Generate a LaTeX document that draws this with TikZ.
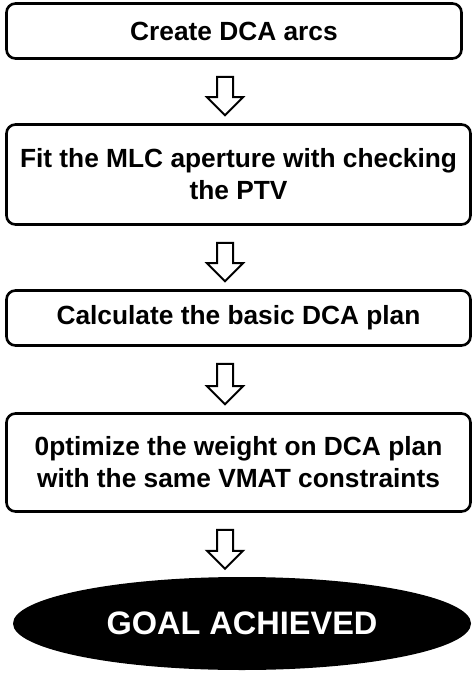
\documentclass[tikz,border=0pt]{standalone}
\usepackage{fontspec}
\setmainfont{Liberation Sans}
\usetikzlibrary{calc, shapes.geometric}

\newcommand{\flowarrow}[2]{%
  \draw[hollow] let \p0 = (axis), \p1 = ($(#1.south)+(0,-17pt)$), \p2 = ($(#2.north)+(0,8pt)$) in
    (\x0-8pt,\y1) -- (\x0+8pt,\y1) -- (\x0+8pt,\y2+18pt) -- (\x0+18pt,\y2+18pt)
    -- (\x0,\y2) -- (\x0-18pt,\y2+18pt) -- (\x0-8pt,\y2+18pt) -- cycle;}

\begin{document}
\begin{tikzpicture}[x=1pt, y=-1pt]
      \tikzset{stepbox/.style = {shape=rectangle, rounded corners=9pt, draw, line width=2.6pt, align=center, inner sep=0pt, font=\fontsize{26.3}{32}\selectfont\bfseries}}
      \tikzset{goalshape/.style = {shape=ellipse, fill=black, text=white, inner sep=0pt, font=\fontsize{32.5}{40}\selectfont\bfseries}}
      \tikzset{hollow/.style = {draw, line width=2pt, fill=white, line join=miter}}
      \useasboundingbox (0,0) rectangle (474,678);
      \coordinate (axis) at (225,0);

      \node[stepbox, minimum width=455pt, minimum height=55pt] (create) at (234, 31) {Create DCA arcs};
      \node[stepbox, minimum width=464pt, minimum height=100pt] (fit) at (238.5, 174.5) {Fit the MLC aperture with checking\\the PTV};
      \node[stepbox, minimum width=464pt, minimum height=55pt] (calc) at (238.5, 318) {Calculate the basic DCA plan};
      \node[stepbox, minimum width=464pt, minimum height=98pt] (optimize) at (238.5, 462.5) {0ptimize the weight on DCA plan\\with the same VMAT constraints};
      \node[goalshape, minimum width=458pt, minimum height=93pt] (goal) at (242, 623.5) {GOAL ACHIEVED};

      \flowarrow{create}{fit}
      \flowarrow{fit}{calc}
      \flowarrow{calc}{optimize}
      \flowarrow{optimize}{goal}
    \end{tikzpicture}
\end{document}
